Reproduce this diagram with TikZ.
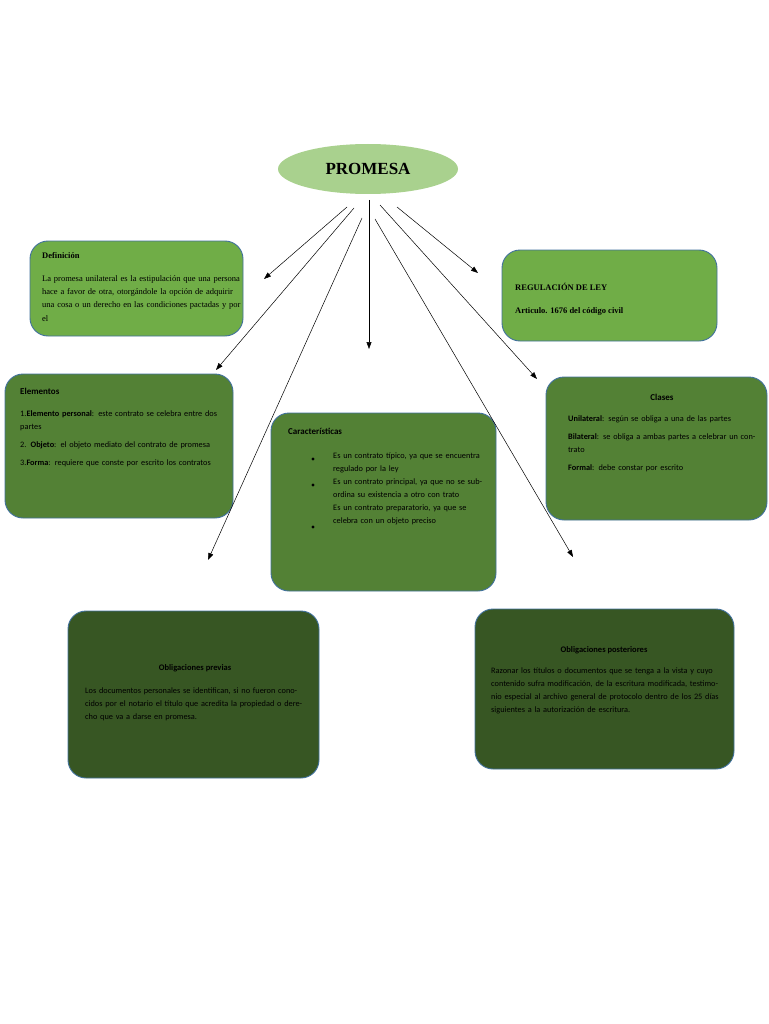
\documentclass[tikz,border=0pt]{standalone}
\usepackage{fontspec}
\setmainfont{Carlito}
\newfontfamily\serifx{Liberation Serif}
\usetikzlibrary{shapes.geometric,arrows.meta}
\definecolor{lg}{HTML}{A9D18E}
\definecolor{g1}{HTML}{70AD47}
\definecolor{g2}{HTML}{538135}
\definecolor{g3}{HTML}{375623}
\definecolor{bd}{HTML}{41719C}
\tikzset{
 box/.style={draw=bd,line width=0.9pt,rounded corners=18pt},
 txt/.style={anchor=north west,inner sep=0pt,align=left,font=\fontsize{8.3}{13}\selectfont},
 conn/.style={-{Triangle[length=7pt,width=5pt]},line width=0.5pt}
}
\begin{document}
\begin{tikzpicture}[x=1pt,y=-1pt]
\useasboundingbox (0,0) rectangle (768,1024);
\node[ellipse,fill=lg,minimum width=180pt,minimum height=50pt,font=\serifx\bfseries\fontsize{17}{20}\selectfont] (prom) at (368,169) {PROMESA};

\draw[box,fill=g1] (30,241) rectangle (243,336);
\node[txt,font=\serifx\bfseries\fontsize{8.5}{12}\selectfont] (defh) at (42,252) {Definición};
\node[txt,font=\serifx\fontsize{8.5}{13.4}\selectfont,text width=200pt] (deft) at (42,275) {La promesa unilateral es la estipulación que una persona hace a favor de otra, otorgándole la opción de adquirir una cosa o un derecho en las condiciones pactadas y por el};

\draw[box,fill=g1] (502,250) rectangle (717,341);
\node[txt,font=\serifx\bfseries\fontsize{8.5}{12}\selectfont] (regh) at (515,283) {REGULACIÓN DE LEY};
\node[txt,font=\serifx\bfseries\fontsize{8.5}{12}\selectfont] (regt) at (515,307) {Articulo. 1676 del código civil};

\draw[box,fill=g2] (5,374) rectangle (233,518);
\node[txt,font=\bfseries\fontsize{9}{12}\selectfont] (elh) at (20,388) {Elementos};
\node[txt,text width=200pt] (elt) at (20,410) {1.\textbf{Elemento personal}: este contrato se celebra entre dos partes\\[5pt]2. \textbf{Objeto}: el objeto mediato del contrato de promesa\\[5pt]3.\textbf{Forma}: requiere que conste por escrito los contratos};

\draw[box,fill=g2] (271,413) rectangle (496,591);
\node[txt,font=\bfseries\fontsize{9}{12}\selectfont] (carh) at (288,428) {Características};
\node[txt,text width=150pt] (cart) at (333,453) {Es un contrato típico, ya que se encuentra regulado por la ley\\Es un contrato principal, ya que no se subordina su existencia a otro con trato\\Es un contrato preparatorio, ya que se celebra con un objeto preciso};
\foreach \yy [count=\i] in {459,485,527} \node[circle,fill=black,inner sep=1.2pt] (b\i) at (313,\yy) {};

\draw[box,fill=g2] (546,377) rectangle (767,520);
\node[font=\bfseries\fontsize{9}{12}\selectfont,inner sep=0pt] (clh) at (662,397) {Clases};
\node[txt,text width=200pt] (clt) at (568,415) {\textbf{Unilateral}: según se obliga a una de las partes\\[5pt]\textbf{Bilateral}: se obliga a ambas partes a celebrar un contrato\\[5pt]\textbf{Formal}: debe constar por escrito};

\draw[box,fill=g3] (68,611) rectangle (319,778);
\node[font=\bfseries\fontsize{8.5}{12}\selectfont,inner sep=0pt] (oph) at (195,668) {Obligaciones previas};
\node[txt,text width=220pt] (opt) at (85,688) {Los documentos personales se identifican, si no fueron conocidos por el notario el título que acredita la propiedad o derecho que va a darse en promesa.};

\draw[box,fill=g3] (475,609) rectangle (734,769);
\node[font=\bfseries\fontsize{8.5}{12}\selectfont,inner sep=0pt] (osh) at (604,650) {Obligaciones posteriores};
\node[txt,text width=230pt] (ost) at (491,668) {Razonar los títulos o documentos que se tenga a la vista y cuyo contenido sufra modificación, de la escritura modificada, testimonio especial al archivo general de protocolo dentro de los 25 días siguientes a la autorización de escritura.};

\coordinate (s1) at (347,207); \coordinate (e1) at (264,279);
\coordinate (s2) at (354,208); \coordinate (e2) at (216,370);
\coordinate (s3) at (362,218); \coordinate (e3) at (208,560);
\coordinate (s4) at (369,200); \coordinate (e4) at (369,349);
\coordinate (s5) at (375,219); \coordinate (e5) at (573,557);
\coordinate (s6) at (380,205); \coordinate (e6) at (537,379);
\coordinate (s7) at (397,207); \coordinate (e7) at (478,273);
\foreach \i in {1,...,7} \draw[conn] (s\i) -- (e\i);
\end{tikzpicture}
\end{document}
